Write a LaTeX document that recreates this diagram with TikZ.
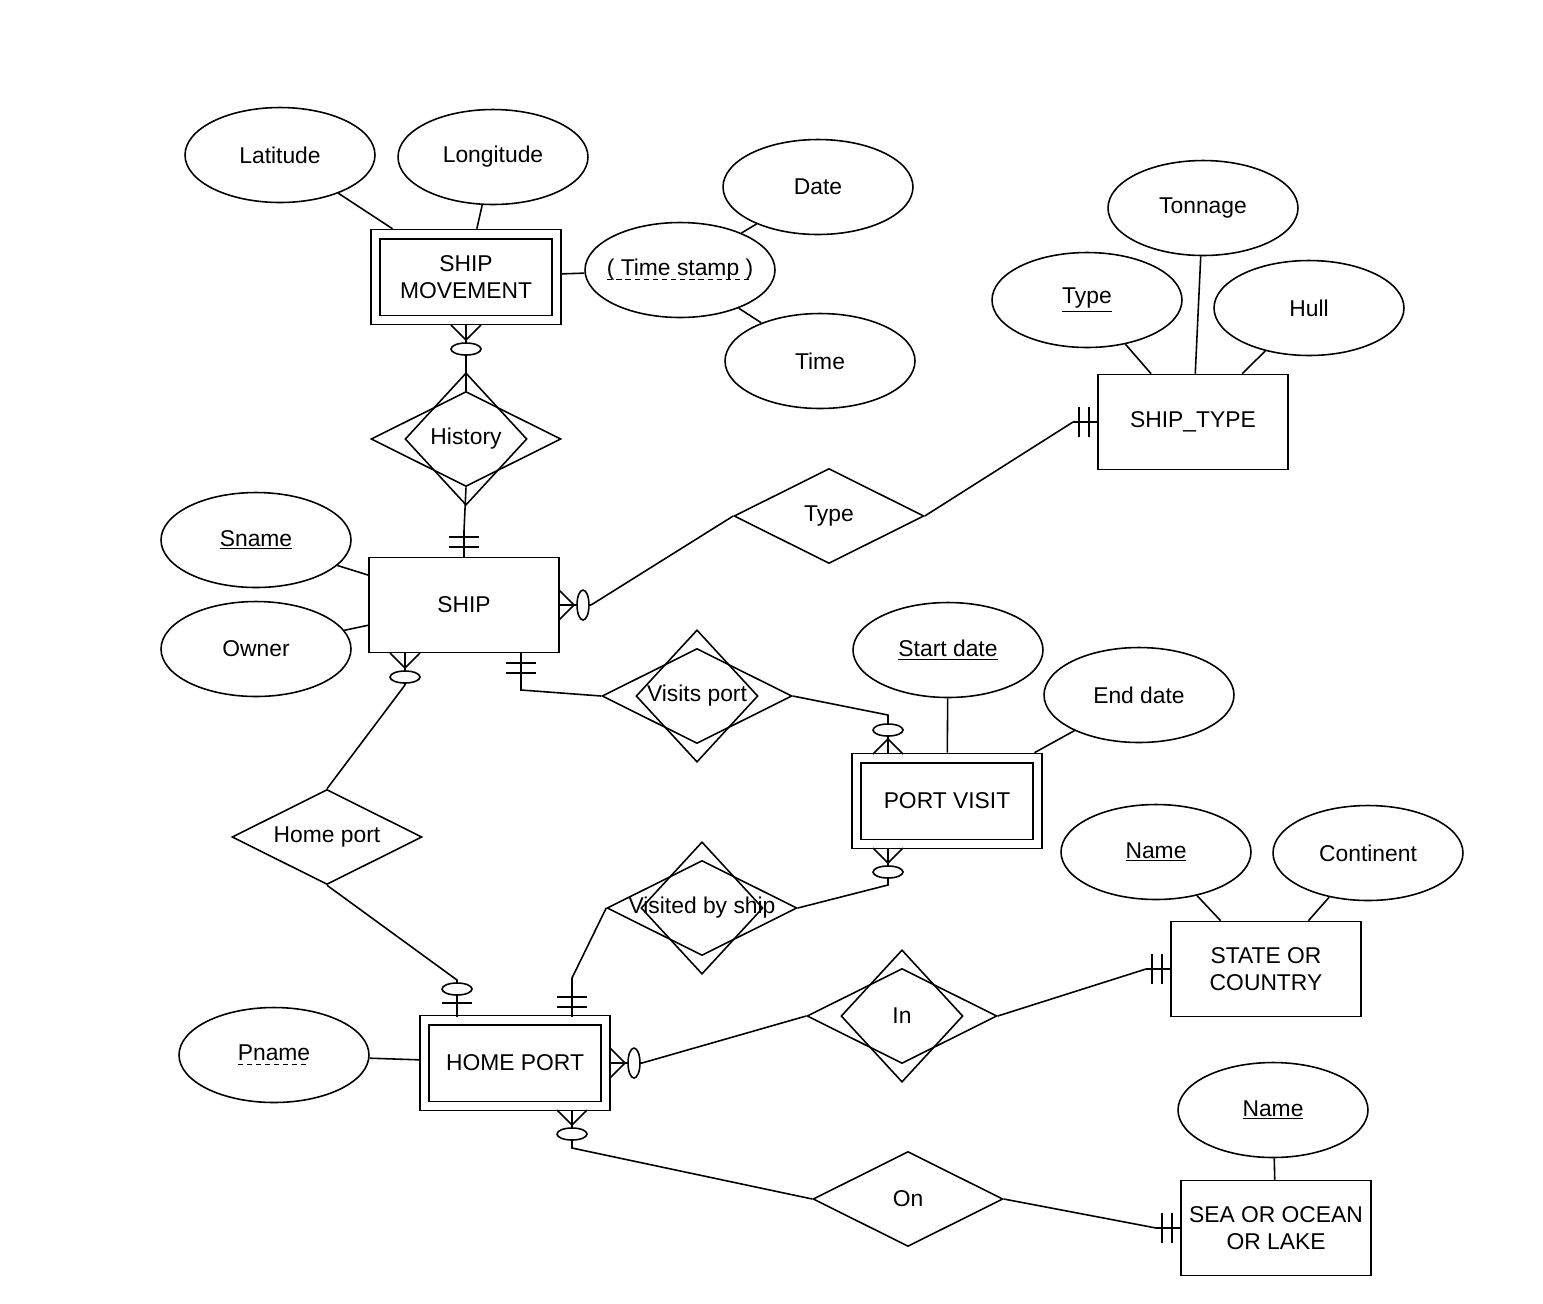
\documentclass[tikz,border=0pt]{standalone}
\usepackage{fontspec}
\setmainfont{Liberation Sans}
\usetikzlibrary{shapes.geometric}
\newcommand\dashul[1]{\setbox0\hbox{#1}\rlap{\raisebox{-2.5pt}{\hbox to\wd0{\xleaders\hbox{\rule{3pt}{0.6pt}\hspace{2pt}}\hfill}}}\box0}
\tikzset{
  attr/.style={ellipse, draw, minimum width=3.8cm, minimum height=1.9cm, inner sep=0pt},
  entity/.style={rectangle, draw, minimum width=3.8cm, minimum height=1.9cm, align=center},
  rel/.style={diamond, draw, minimum width=3.8cm, minimum height=1.9cm, inner sep=0pt, shape aspect=2},
  line/.style={line width=0.9pt},
  zeromany/.pic={
    \draw[line] (0,-15) -- (15,0) -- (0,15) (0,0) -- (15,0) -- (18,0);
    \draw[line, fill=white] (24,0) ellipse [x radius=6, y radius=15];
    \draw[line] (30,0) -- (32,0);
  },
  zeroone/.pic={
    \draw[line] (0,0) -- (22,0) (14,-15) -- (14,15);
    \draw[line, fill=white] (28,0) ellipse [x radius=6, y radius=15];
  },
  oneone/.pic={
    \draw[line] (0,0) -- (26,0) (10,-15) -- (10,15) (20,-15) -- (20,15);
  }
}
\begin{document}
\begin{tikzpicture}[x=0.02cm, y=-0.02cm, font=\fontsize{13}{15}\selectfont, every path/.style={line width=0.9pt}]
\useasboundingbox (0,0) rectangle (1543,1303);

% attributes
\node[attr] (lat) at (280,155) {Latitude};
\node[attr] (lon) at (493,157) {Longitude};
\node[attr] (date) at (818,187) {Date};
\node[attr] (tstamp) at (680,270) {\makebox[2cm]{\dashul{( Time stamp )}}};
\node[attr] (time) at (820,361) {Time};
\node[attr] (tonnage) at (1203,208) {Tonnage};
\node[attr] (stype) at (1087,300) {\underline{Type}};
\node[attr] (hull) at (1309,308) {Hull};
\node[attr] (sname) at (256,540) {\underline{Sname}};
\node[attr] (owner) at (256,649) {Owner};
\node[attr] (start) at (948,650) {\underline{Start date}};
\node[attr] (end) at (1139,695) {End date};
\node[attr] (sname2) at (1156,852) {\underline{Name}};
\node[attr] (cont) at (1368,853) {Continent};
\node[attr] (pname) at (274,1055) {\dashul{Pname}};
\node[attr] (wname) at (1273,1110) {\underline{Name}};

% entities
\node[entity] (move) at (466,277) {SHIP\\MOVEMENT};
\node[entity] (shiptype) at (1193,422) {SHIP\_TYPE};
\node[entity] (ship) at (464,605) {SHIP};
\node[entity] (visit) at (947,801) {PORT VISIT};
\node[entity] (state) at (1266,969) {STATE OR\\COUNTRY};
\node[entity] (home) at (515,1063) {HOME PORT};
\node[entity, inner sep=1pt] (sea) at (1276,1228) {SEA OR OCEAN\\OR LAKE};
\foreach \n in {move,visit,home}
  \draw ([shift={(10,10)}]\n.north west) rectangle ([shift={(-10,-10)}]\n.south east);

% relationships
\node[rel] (history) at (466,439) {History};
\node[rel] (type) at (829,516) {Type};
\node[rel] (visits) at (697,696) {Visits port};
\node[rel] (homeport) at (327,837) {Home port};
\node[rel] (visited) at (702,908) {\makebox[2cm]{Visited by ship}};
\node[rel] (in) at (902,1016) {In};
\node[rel] (on) at (908,1199) {On};
\foreach \n in {history,visits,visited,in}
  \draw ([yshift=10]\n.north) -- ([xshift=-20]\n.east) -- ([yshift=-10]\n.south) -- ([xshift=20]\n.west) -- cycle;

% attribute links
\draw (lat) -- (move);
\draw (lon) -- (move);
\draw (tstamp) -- (move);
\draw (tstamp) -- (date);
\draw (tstamp) -- (time);
\draw (tonnage) -- (shiptype);
\draw (stype) -- (shiptype);
\draw (hull) -- (shiptype);
\draw (sname) -- (ship);
\draw (owner) -- (ship);
\draw (start) -- (visit);
\draw (end) -- (visit);
\draw (sname2) -- (state);
\draw (cont) -- (state);
\draw (pname) -- (home);
\draw (wname) -- (sea);

% coordinates on entity borders
\coordinate (moveS) at (466,325);
\coordinate (shipN) at (464,557);
\coordinate (shipE) at (559,605);
\coordinate (shipSW) at (405,653);
\coordinate (shipSE) at (521,653);
\coordinate (typeW) at (1099,422);
\coordinate (visitN) at (888,754);
\coordinate (visitS) at (888,848);
\coordinate (homeNW) at (457,1017);
\coordinate (homeNE) at (572,1017);
\coordinate (homeE) at (610,1063);
\coordinate (homeS) at (572,1110);
\coordinate (stateW) at (1172,969);
\coordinate (seaW) at (1182,1228);

% relationship links
\pic[rotate=-90] at (moveS) {zeromany};
\draw[line] (466,357) -- (history.north);
\draw[line] (history.south) -- (464,531);
\pic[rotate=90] at (shipN) {oneone};
\pic at (shipE) {zeromany};
\draw[line] (591,605) -- (type.west);
\draw[line] (type.east) -- (1073,422);
\pic[rotate=180] at (typeW) {oneone};
\pic[rotate=-90] at (shipSW) {zeromany};
\draw[line] (405,685) -- (homeport.north);
\draw[line] (homeport.south) -- (457,980) -- (457,989);
\pic[rotate=90] at (homeNW) {zeroone};
\pic[rotate=-90] at (shipSE) {oneone};
\draw[line] (521,679) -- (521,690) -- (visits.west);
\draw[line] (visits.east) -- (888,715) -- (888,722);
\pic[rotate=90] at (visitN) {zeromany};
\pic[rotate=-90] at (visitS) {zeromany};
\draw[line] (888,880) -- (888,885) -- (visited.east);
\draw[line] (visited.west) -- (572,978) -- (572,991);
\pic[rotate=90] at (homeNE) {oneone};
\pic at (homeE) {zeromany};
\draw[line] (642,1063) -- (in.west);
\draw[line] (in.east) -- (1146,969);
\pic[rotate=180] at (stateW) {oneone};
\pic[rotate=-90] at (homeS) {zeromany};
\draw[line] (572,1142) -- (572,1148) -- (on.west);
\draw[line] (on.east) -- (1156,1228);
\pic[rotate=180] at (seaW) {oneone};

\end{tikzpicture}
\end{document}
